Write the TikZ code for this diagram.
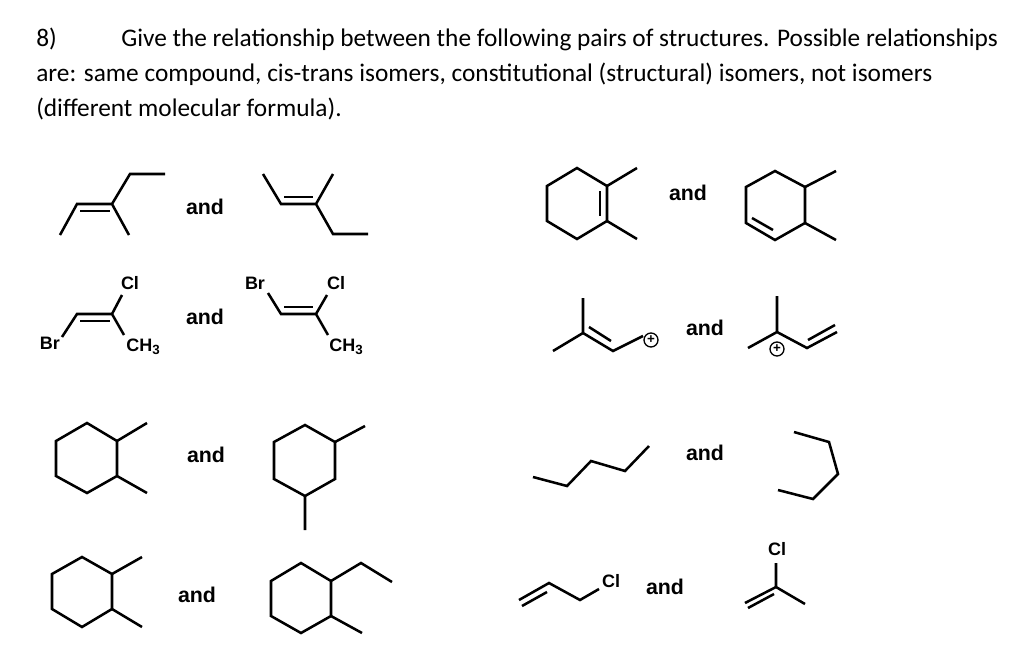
\documentclass[tikz,border=0pt]{standalone}
\usepackage{fontspec}
\setmainfont{Carlito}
\newfontfamily\arial{Liberation Sans}
\newcommand{\subthree}{\raisebox{-0.35ex}{\fontsize{10}{10}\selectfont 3}}
\begin{document}
\begin{tikzpicture}[x=0.75pt,y=-0.75pt,line width=1.9pt,line join=miter,
  hdr/.style={anchor=base west,inner sep=0pt,font=\fontsize{19}{22}\selectfont},
  andl/.style={font=\arial\bfseries\fontsize{16}{18}\selectfont,inner sep=0pt},
  atom/.style={font=\arial\bfseries\fontsize{13.5}{15}\selectfont,inner sep=0pt},
  plus/.style={circle,draw,line width=1pt,minimum size=10.5pt,inner sep=0pt,font=\arial\bfseries\fontsize{10}{10}\selectfont}]
\useasboundingbox (0,0) rectangle (1024,668);
% header
\node[hdr] (h0) at (35,46) {8)};
\node[hdr] (h1) at (120,46) {Give the relationship between the following pairs of structures. Possible relationships};
\node[hdr] (h2) at (35,81) {are: same compound, cis-trans isomers, constitutional (structural) isomers, not isomers};
\node[hdr] (h3) at (35,116) {(different molecular formula).};
% ands
\node[andl] (a1) at (205,207) {and};
\node[andl] (a2) at (205,317) {and};
\node[andl] (a3) at (206,455) {and};
\node[andl] (a4) at (197,595) {and};
\node[andl] (a5) at (688,193) {and};
\node[andl] (a6) at (705,328) {and};
\node[andl] (a7) at (705,453) {and};
\node[andl] (a8) at (665,587) {and};
% mol 1
\draw (60,235)--(77,204)--(112,204)--(129,235) (112,204)--(130,174)--(165,174);
\draw (80,211)--(110,211);
% mol 2
\draw (263,174)--(281,204)--(316,204)--(333,174) (316,204)--(333,234)--(368,234);
\draw (284,197)--(313,197);
% mol 3
\draw (62,337)--(77,314)--(112,314)--(122,295) (112,314)--(124,335);
\draw (80,321)--(110,321);
\node[atom] (br1) at (50,343) {Br};
\node[atom] (cl1) at (130,283) {Cl};
\node[atom] (ch1) at (143,347) {CH\subthree};
% mol 4
\draw (268,293)--(281,314)--(316,314)--(327,295) (316,314)--(328,335);
\draw (284,307)--(313,307);
\node[atom] (br2) at (255,283) {Br};
\node[atom] (cl2) at (336,283) {Cl};
\node[atom] (ch2) at (346,347) {CH\subthree};
% mol 5
\draw (577,168)--(607,186)--(607,221)--(577,239)--(547,221)--(547,186)--cycle;
\draw (607,186)--(637,168) (607,221)--(637,239);
\draw (600,191)--(600,216);
% mol 6
\draw (775,171)--(805,187)--(805,223)--(775,240)--(746,223)--(746,187)--cycle;
\draw (805,187)--(836,171) (805,223)--(836,240);
\draw (752,218)--(773,230);
% mol 7
\draw (553,351)--(583,333)--(613,351)--(643,336) (583,333)--(583,298);
\draw (589,327)--(611,341);
\node[plus] (p1) at (651,340) {+};
% mol 8
\draw (748,348)--(777,332)--(807,348)--(837,332) (777,332)--(777,296);
\draw (808,340)--(835,325);
\node[plus] (p2) at (777,349) {+};
% mol 9
\draw (87,423)--(117,441)--(117,476)--(87,493)--(56,476)--(56,441)--cycle;
\draw (117,441)--(147,423) (117,476)--(147,493);
% mol 10
\draw (305,425)--(335,442)--(335,479)--(305,496)--(274,479)--(274,442)--cycle;
\draw (335,442)--(365,426) (305,496)--(305,530);
% mol 11
\draw (82,557)--(112,574)--(112,609)--(82,627)--(52,609)--(52,574)--cycle;
\draw (112,574)--(142,557) (112,609)--(142,627);
% mol 12
\draw (301,563)--(331,581)--(331,616)--(301,633)--(271,616)--(271,581)--cycle;
\draw (331,581)--(361,563)--(392,582) (331,616)--(362,633);
% mol 13
\draw (533,477)--(567,486)--(591,461)--(625,471)--(649,446);
% mol 14
\draw (794,432)--(829,442)--(838,474)--(813,499)--(778,490);
% mol 15
\draw (519,600)--(549,583)--(580,600)--(599,589);
\draw (522,606)--(547,592);
\node[atom] (cl3) at (611,581) {Cl};
% mol 16
\draw (776,563)--(776,587)--(805,604) (776,587)--(745,603);
\draw (748,608)--(774,594);
\node[atom] (cl4) at (777,549) {Cl};
\end{tikzpicture}
\end{document}
